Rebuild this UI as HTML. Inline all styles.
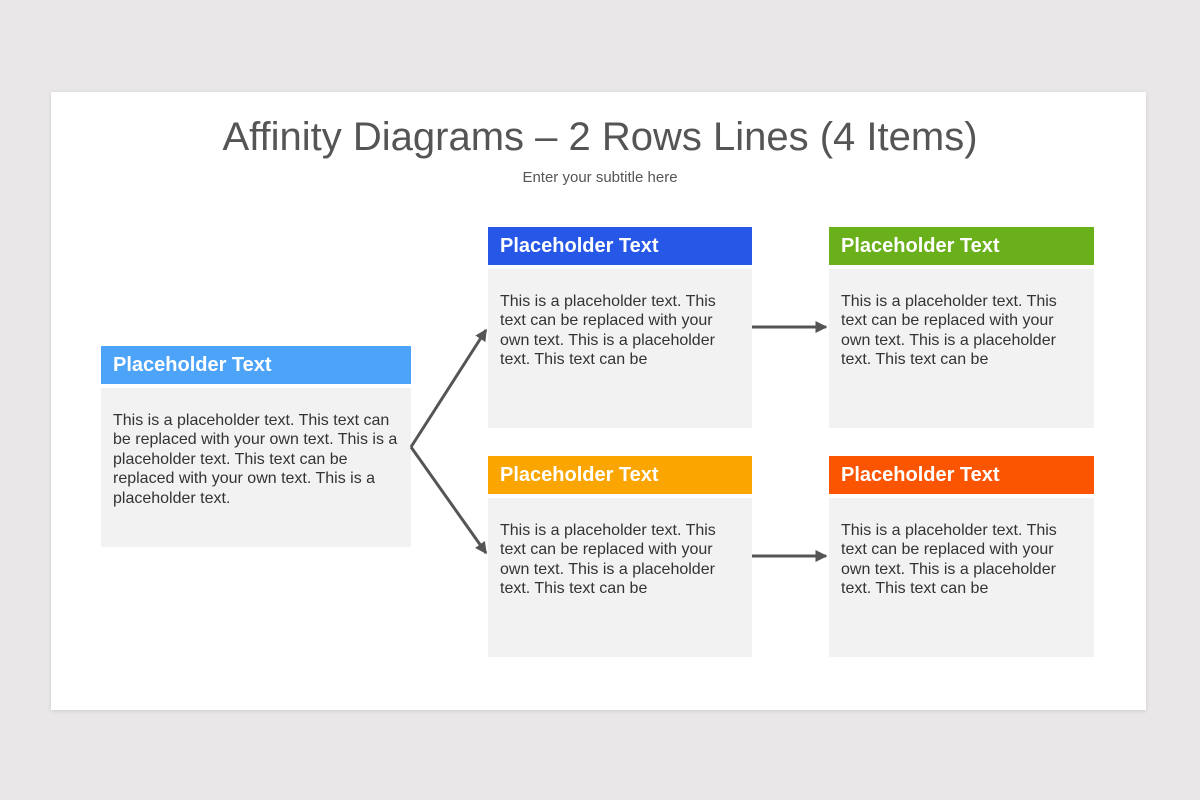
<!DOCTYPE html>
<html><head><style>
body{margin:0;width:1200px;height:800px;background:#e9e7e8;font-family:"Liberation Sans",sans-serif;position:relative;overflow:hidden}
.slide{position:absolute;left:51px;top:92px;width:1095px;height:618px;background:#fff;box-shadow:0 1px 4px rgba(0,0,0,.12)}
.t{position:absolute;left:0;width:1200px;text-align:center;color:#555;white-space:nowrap}
.h{position:absolute;height:38px;color:#fff;font-weight:bold;font-size:20px;line-height:38px;padding-left:12px;box-sizing:border-box}
.b{position:absolute;background:#f2f2f2;color:#333;font-size:16px;line-height:19.4px;padding:23px 0 0 12px;box-sizing:border-box;white-space:nowrap}
</style></head><body>
<div class="slide"></div>
<div class="t" style="top:115px;font-size:40px">Affinity Diagrams – 2 Rows Lines (4 Items)</div>
<div class="t" style="top:169px;font-size:15px">Enter your subtitle here</div>

<div class="h" style="left:101px;top:346px;width:310px;background:#4da3f8">Placeholder Text</div>
<div class="b" style="left:101px;top:388px;width:310px;height:159px">This is a placeholder text. This text can<br>be replaced with your own text. This is a<br>placeholder text. This text can be<br>replaced with your own text. This is a<br>placeholder text.</div>

<div class="h" style="left:488px;top:227px;width:264px;background:#2657e6">Placeholder Text</div>
<div class="b" style="left:488px;top:269px;width:264px;height:159px">This is a placeholder text. This<br>text can be replaced with your<br>own text. This is a placeholder<br>text. This text can be</div>

<div class="h" style="left:488px;top:456px;width:264px;background:#fba500">Placeholder Text</div>
<div class="b" style="left:488px;top:498px;width:264px;height:159px">This is a placeholder text. This<br>text can be replaced with your<br>own text. This is a placeholder<br>text. This text can be</div>

<div class="h" style="left:829px;top:227px;width:265px;background:#69b01a">Placeholder Text</div>
<div class="b" style="left:829px;top:269px;width:265px;height:159px">This is a placeholder text. This<br>text can be replaced with your<br>own text. This is a placeholder<br>text. This text can be</div>

<div class="h" style="left:829px;top:456px;width:265px;background:#fc5502">Placeholder Text</div>
<div class="b" style="left:829px;top:498px;width:265px;height:159px">This is a placeholder text. This<br>text can be replaced with your<br>own text. This is a placeholder<br>text. This text can be</div>

<svg style="position:absolute;left:0;top:0" width="1200" height="800">
<defs><marker id="a" markerWidth="4" markerHeight="4" refX="3.5" refY="2" orient="auto" markerUnits="strokeWidth"><path d="M0,0L4,2L0,4z" fill="#555"/></marker></defs>
<g stroke="#555" stroke-width="3" fill="none">
<line x1="411" y1="447" x2="486" y2="330" marker-end="url(#a)"/>
<line x1="411" y1="447" x2="486" y2="553" marker-end="url(#a)"/>
<line x1="752" y1="327" x2="826" y2="327" marker-end="url(#a)"/>
<line x1="752" y1="556" x2="826" y2="556" marker-end="url(#a)"/>
</g>
</svg>
</body></html>
